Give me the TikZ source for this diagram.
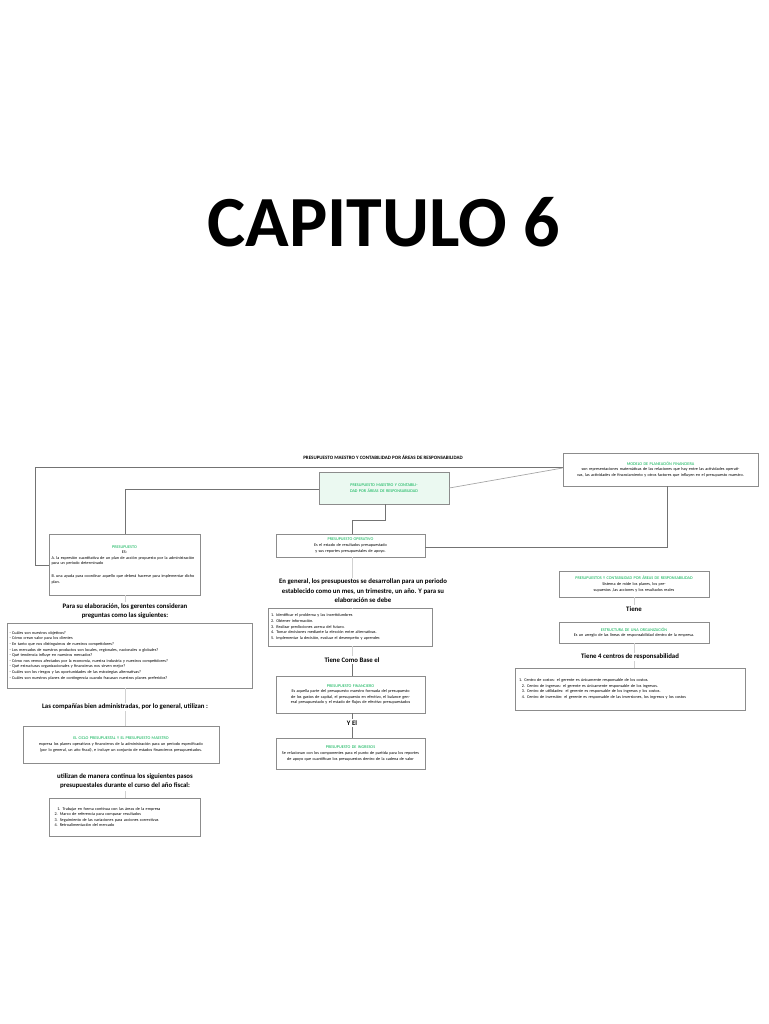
\documentclass[tikz,border=0pt]{standalone}
\usepackage{fontspec}
\setmainfont{Carlito}
\definecolor{grn}{RGB}{0,176,80}
\begin{document}
\begin{tikzpicture}[x=1pt,y=-1pt,
 bx/.style={draw=black!45, line width=0.7pt, fill=white, inner sep=1.5pt, font=\fontsize{4.2}{5.6}\selectfont, align=center, minimum width=#1},
 hd/.style={font=\bfseries\fontsize{6.8}{9.5}\selectfont, align=center, inner sep=1pt},
 ln/.style={draw=black!55, line width=0.7pt},
 fl/.style={draw=black!18, line width=0.7pt}]
\useasboundingbox (0,0) rectangle (768,1024);
\node[font=\bfseries\fontsize{72}{72}\selectfont] (title) at (384,222) {CAPITULO 6};
\node[font=\bfseries\fontsize{5}{6}\selectfont] (head) at (383,457) {PRESUPUESTO MAESTRO Y CONTABILIDAD POR ÁREAS DE RESPONSABILIDAD};
% boxes
\node[bx=130pt, minimum height=32pt, fill=grn!8, text width=110pt] (pm) at (384,488) {\textcolor{grn}{PRESUPUESTO MAESTRO Y CONTABILIDAD POR ÁREAS DE RESPONSABILIDAD}};
\node[bx=195pt, minimum height=33pt, text width=190pt] (mod) at (660.5,469.5) {\textcolor{grn}{MODELO DE PLANEACIÓN FINANCIERA}\\son representaciones matemáticas de las relaciones que hay entre las actividades operativas, las actividades de financiamiento y otros factores que influyen en el presupuesto maestro.};
\node[bx=151pt, minimum height=61pt, text width=146pt, align=left] (pre) at (124.5,564.5) {\centering\textcolor{grn}{PRESUPUESTO}\\ES:\par\raggedright A. la expresión cuantitativa de un plan de acción propuesto por la administración para un periodo determinado\par\vspace{7pt}B. una ayuda para coordinar aquello que deberá hacerse para implementar dicho plan.\par};
\node[bx=149pt, minimum height=23pt, text width=140pt] (ope) at (350.5,545.5) {\textcolor{grn}{PRESUPUESTO OPERATIVO}\\Es el estado de resultados presupuestado y sus reportes presupuestales de apoyo.};
\node[hd] (engen) at (363,591) {En general, los presupuestos se desarrollan para un periodo\\establecido como un mes, un trimestre, un año. Y para su\\elaboración se debe};
\node[bx=164pt, minimum height=38pt, text width=158pt, align=left] (steps) at (350,627) {1. Identificar el problema y las incertidumbres\\2. Obtener información.\\3. Realizar predicciones acerca del futuro.\\4. Tomar decisiones mediante la elección entre alternativas.\\5. Implementar la decisión, evaluar el desempeño y aprender.};
\node[hd] (base) at (352,660) {Tiene Como Base el};
\node[bx=149pt, minimum height=37pt, text width=138pt] (fin) at (350.5,694.5) {\textcolor{grn}{PRESUPUESTO FINANCIERO}\\Es aquella parte del presupuesto maestro formada del presupuesto de los gastos de capital, el presupuesto en efectivo, el balance general presupuestado y el estado de flujos de efectivo presupuestados};
\node[hd] (yel) at (352,723) {Y El};
\node[bx=149pt, minimum height=31pt, text width=138pt] (ing) at (350.5,753.5) {\textcolor{grn}{PRESUPUESTO DE INGRESOS}\\Se relacionan con los componentes para el punto de partida para los reportes de apoyo que cuantifican los presupuestos dentro de la cadena de valor};
\node[hd] (para) at (125,611) {Para su elaboración, los gerentes consideran\\preguntas como las siguientes:};
\node[bx=245pt, minimum height=65pt, text width=240pt, align=left] (q) at (129.5,655.5) {- Cuáles son nuestros objetivos?\\- Cómo crean valor para los clientes\\- En tanto que nos distinguimos de nuestros competidores?\\- Los mercados de nuestros productos son locales, regionales, nacionales o globales?\\- Qué tendencia influye en nuestros mercados?\\- Cómo nos vemos afectados por la economía, nuestra industria y nuestros competidores?\\- Qué estructuras organizacionales y financieras nos sirven mejor?\\- Cuáles son los riesgos y las oportunidades de las estrategias alternativas?\\- Cuáles son nuestros planes de contingencia cuando fracasan nuestros planes preferidos?};
\node[hd] (comp) at (125,707) {Las compañías bien administradas, por lo general, utilizan :};
\node[bx=196pt, minimum height=37pt, text width=186pt] (cic) at (121,744.5) {\textcolor{grn}{EL CICLO PRESUPUESTAL Y EL PRESUPUESTO MAESTRO}\\expresa los planes operativos y financieros de la administración para un periodo especificado (por lo general, un año fiscal), e incluye un conjunto de estados financieros presupuestados.};
\node[hd] (util) at (125,781) {utilizan de manera continua los siguientes pasos\\presupuestales durante el curso del año fiscal:};
\node[bx=151pt, minimum height=38pt, text width=140pt, align=left] (pas) at (124.5,817) {\ \ 1. Trabajar en forma continua con las áreas de la empresa\\2. Marco de referencia para comparar resultados\\3. Seguimiento de las variaciones para acciones correctivas\\4. Retroalimentación del mercado};
\node[bx=150pt, minimum height=26pt, text width=142pt] (pyc) at (634,584) {\textcolor{grn}{PRESUPUESTOS Y CONTABILIDAD POR ÁREAS DE RESPONSABILIDAD}\\Sistema de mide los planes, los presupuestos ,las acciones y los resultados reales};
\node[hd] (tiene) at (634,609) {Tiene};
\node[bx=150pt, minimum height=21pt, text width=142pt] (est) at (634,632.5) {\textcolor{grn}{ESTRUCTURA DE UNA ORGANIZACIÓN}\\Es un arreglo de las líneas de responsabilidad dentro de la empresa.};
\node[hd] (cuatro) at (630,657) {Tiene 4 centros de responsabilidad};
\node[bx=230pt, minimum height=42pt, text width=222pt, align=left] (cen) at (630,689) {1. Centro de costos: el gerente es únicamente responsable de los costos.\\\ \ 2. Centro de ingresos: el gerente es únicamente responsable de los ingresos.\\\ \ 3. Centro de utilidades: el gerente es responsable de los ingresos y los costos.\\\ \ 4. Centro de inversión: el gerente es responsable de las inversiones, los ingresos y los costos};
% connectors
\coordinate (c1) at (35,467);
\draw[ln] (pre.west |- 0,565) -- (35,565) -- (c1) -- (mod.west |- c1);
\draw[ln] (pm.west |- 0,489) -- (125,489) -- (125,534);
\draw[ln, draw=black!35] (pm.east) -- (mod.west |- 0,468);
\draw[ln] (385,504) -- (385,520) -- (352,520) -- (352,534);
\draw[ln] (667,486) -- (667,547) -- (ope.east |- 0,547);
\draw[fl] (352,557) -- (engen.north -| 352,0);
\draw[fl] (352,603) ++(0,6) -- (steps.north -| 352,0);
\draw[fl] (352,646) -- (base.north -| 352,0);
\draw[ln] (base.south -| 352,0) -- (352,676);
\draw[ln] (352,713) -- (yel.north -| 352,0);
\draw[ln] (yel.south -| 352,0) -- (352,738);
\draw[fl] (125,595) -- (para.north -| 125,0);
\draw[fl] (125,688) -- (comp.north -| 125,0);
\draw[fl] (comp.south -| 125,0) -- (125,726);
\draw[fl] (125,791) -- (125,798);
\draw[fl] (634,597) -- (tiene.north -| 634,0);
\draw[fl] (634,643) -- (cuatro.north -| 634,0);
\draw[fl] (cuatro.south -| 634,0) -- (634,668);
\end{tikzpicture}
\end{document}
